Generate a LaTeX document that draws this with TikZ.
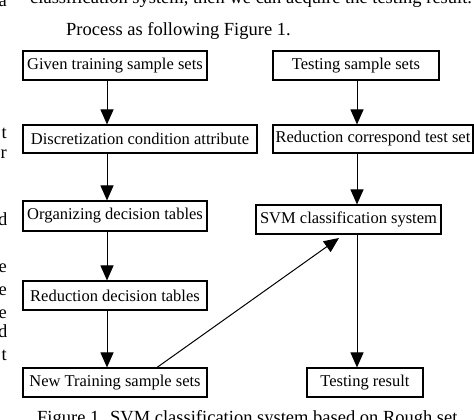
\documentclass[tikz,border=0pt]{standalone}
\usepackage{fontspec}
\setmainfont{Liberation Serif}
\usetikzlibrary{arrows.meta}
\begin{document}
\begin{tikzpicture}[x=1pt,y=-1pt,
  box/.style={draw, line width=1.1pt, inner sep=0pt, align=center,
    font=\fontsize{16.5}{18}\selectfont},
  arr/.style={line width=1pt, -{Triangle[length=15pt,width=13pt]}},
  body/.style={inner sep=0pt, font=\fontsize{18.5}{22}\selectfont},
  frag/.style={inner sep=0pt, anchor=base east, font=\fontsize{18.5}{22}\selectfont}]
\useasboundingbox (0,0) rectangle (474,420);
% surrounding text of the page
\node[body, anchor=base west] (t0) at (30,4) {classification system, then we can acquire the testing result.};
\node[body, anchor=base west] (t1) at (66,35.5) {Process as following Figure 1.};
\node[body, anchor=base west] (cap) at (37,423.5) {Figure 1. SVM classification system based on Rough set};
% fragments of the neighbouring column
\node[frag] (f1) at (7,7) {a};
\node[frag] (f2) at (7,138) {t};
\node[frag] (f3) at (7,158) {r};
\node[frag] (f4) at (7.5,225) {d};
\node[frag] (f5) at (7,272) {e};
\node[frag] (f6) at (7,295) {e};
\node[frag] (f7) at (7,318) {e};
\node[frag] (f8) at (7.5,337) {d};
\node[frag] (f9) at (7,360) {t};
% boxes
\node[box, minimum width=184pt, minimum height=29pt] (b1) at (115,65.5) {Given training sample sets};
\node[box, minimum width=166pt, minimum height=29pt] (b2) at (356,65.5) {Testing sample sets};
\node[box, minimum width=234pt, minimum height=28pt] (b3) at (140,139) {Discretization condition attribute};
\node[box, minimum width=200pt, minimum height=28pt] (b4) at (373,139) {Reduction correspond test set};
\node[box, minimum width=184pt, minimum height=30pt] (b5) at (115,216) {Organizing decision tables};
\node[box, minimum width=185pt, minimum height=29pt] (b6) at (348.5,219.5) {SVM classification system};
\node[box, minimum width=184pt, minimum height=29pt] (b7) at (115,295.5) {Reduction decision tables};
\node[box, minimum width=184pt, minimum height=29pt] (b8) at (115,382.5) {New Training sample sets};
\node[box, minimum width=116pt, minimum height=29pt] (b9) at (365,382.5) {Testing result};
% columns
\coordinate (lc) at (107,0);
\coordinate (rc) at (357,0);
\coordinate (dc) at (157,0);
\coordinate (dtip) at (339,238);
% connectors
\draw[arr] (b1.south -| lc) -- (b3.north -| lc);
\draw[arr] (b3.south -| lc) -- (b5.north -| lc);
\draw[arr] (b5.south -| lc) -- (b7.north -| lc);
\draw[arr] (b7.south -| lc) -- (b8.north -| lc);
\draw[arr] (b2.south -| rc) -- (b4.north -| rc);
\draw[arr] (b4.south -| rc) -- (b6.north -| rc);
\draw[arr] (b6.south -| rc) -- (b9.north -| rc);
\draw[arr] (b8.north -| dc) -- (dtip);
\end{tikzpicture}
\end{document}
